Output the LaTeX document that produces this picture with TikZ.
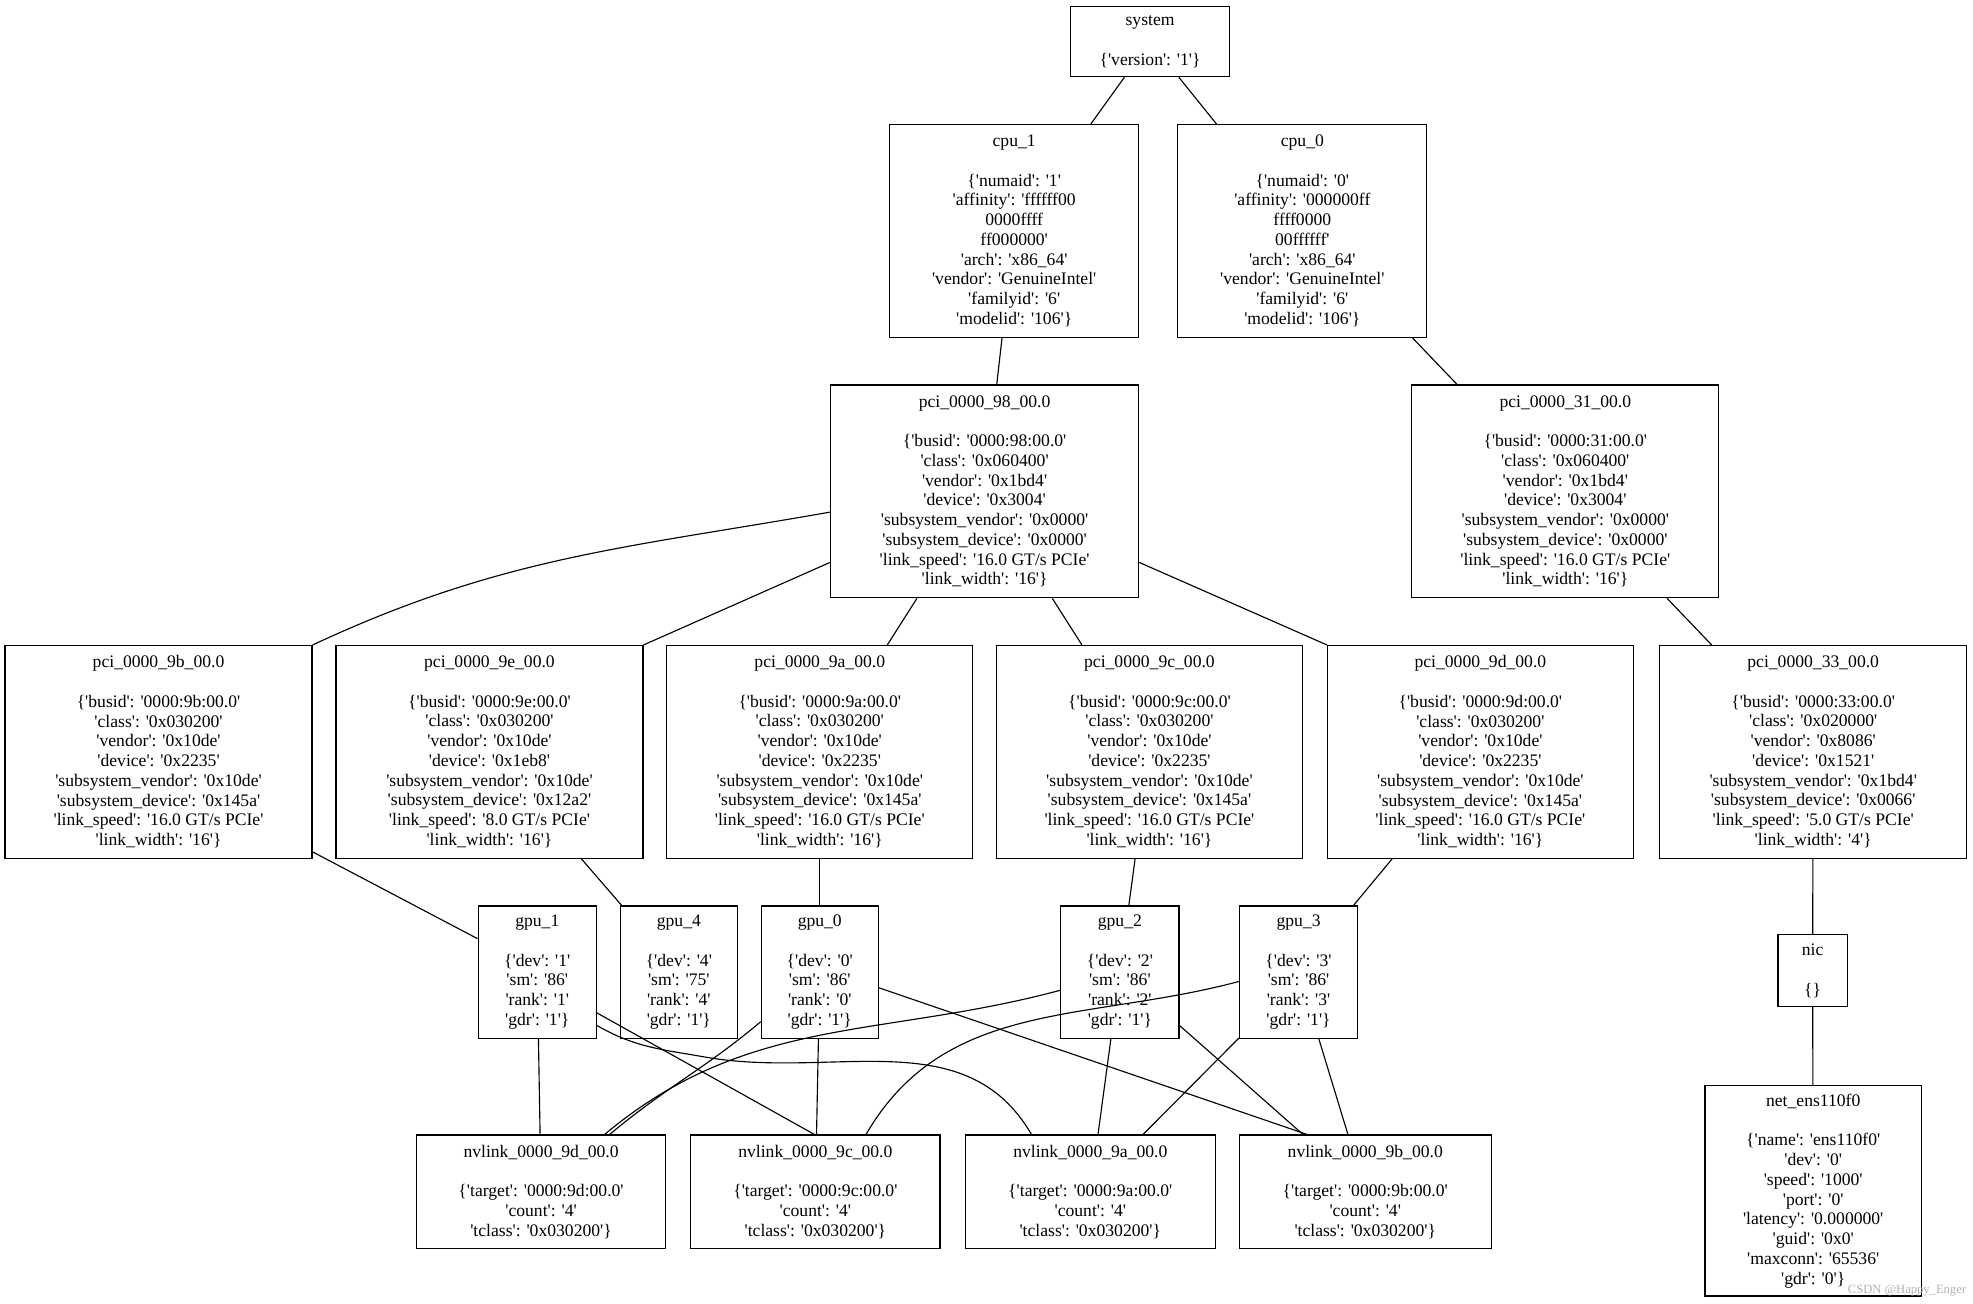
\documentclass[tikz,border=0pt]{standalone}
\usepackage{fontspec}
\setmainfont{Liberation Serif}[Ligatures=TeXOff]
\begin{document}
\begin{tikzpicture}[x=1pt,y=-1pt,
  box/.style={draw,line width=0.9pt,align=center,inner sep=0pt,font=\fontsize{14}{15.7}\selectfont},
  e/.style={line width=0.9pt}]
\useasboundingbox (0,0) rectangle (1568,1036);
\def\B#1#2#3#4#5#6#7{\node[box,minimum width=#4,minimum height=#5] (#1) at (#2,#3) {#6\\[15.7pt]#7};}
\B{sys}{914}{33}{126}{56}{system}{\{'version': '1'\}}
\B{cpu1}{806}{183.5}{198}{169}{cpu\_1}{\{'numaid': '1'\\'affinity': 'ffffff00\\0000ffff\\ff000000'\\'arch': 'x86\_64'\\'vendor': 'GenuineIntel'\\'familyid': '6'\\'modelid': '106'\}}
\B{cpu0}{1035}{183.5}{198}{169}{cpu\_0}{\{'numaid': '0'\\'affinity': '000000ff\\ffff0000\\00ffffff'\\'arch': 'x86\_64'\\'vendor': 'GenuineIntel'\\'familyid': '6'\\'modelid': '106'\}}
\B{p98}{782.5}{390.5}{245}{169}{pci\_0000\_98\_00.0}{\{'busid': '0000:98:00.0'\\'class': '0x060400'\\'vendor': '0x1bd4'\\'device': '0x3004'\\'subsystem\_vendor': '0x0000'\\'subsystem\_device': '0x0000'\\'link\_speed': '16.0 GT/s PCIe'\\'link\_width': '16'\}}
\B{p31}{1244}{390.5}{244}{169}{pci\_0000\_31\_00.0}{\{'busid': '0000:31:00.0'\\'class': '0x060400'\\'vendor': '0x1bd4'\\'device': '0x3004'\\'subsystem\_vendor': '0x0000'\\'subsystem\_device': '0x0000'\\'link\_speed': '16.0 GT/s PCIe'\\'link\_width': '16'\}}
\B{p9b}{126}{597.5}{244}{169}{pci\_0000\_9b\_00.0}{\{'busid': '0000:9b:00.0'\\'class': '0x030200'\\'vendor': '0x10de'\\'device': '0x2235'\\'subsystem\_vendor': '0x10de'\\'subsystem\_device': '0x145a'\\'link\_speed': '16.0 GT/s PCIe'\\'link\_width': '16'\}}
\B{p9e}{389}{597.5}{244}{169}{pci\_0000\_9e\_00.0}{\{'busid': '0000:9e:00.0'\\'class': '0x030200'\\'vendor': '0x10de'\\'device': '0x1eb8'\\'subsystem\_vendor': '0x10de'\\'subsystem\_device': '0x12a2'\\'link\_speed': '8.0 GT/s PCIe'\\'link\_width': '16'\}}
\B{p9a}{651.5}{597.5}{243}{169}{pci\_0000\_9a\_00.0}{\{'busid': '0000:9a:00.0'\\'class': '0x030200'\\'vendor': '0x10de'\\'device': '0x2235'\\'subsystem\_vendor': '0x10de'\\'subsystem\_device': '0x145a'\\'link\_speed': '16.0 GT/s PCIe'\\'link\_width': '16'\}}
\B{p9c}{913.5}{597.5}{243}{169}{pci\_0000\_9c\_00.0}{\{'busid': '0000:9c:00.0'\\'class': '0x030200'\\'vendor': '0x10de'\\'device': '0x2235'\\'subsystem\_vendor': '0x10de'\\'subsystem\_device': '0x145a'\\'link\_speed': '16.0 GT/s PCIe'\\'link\_width': '16'\}}
\B{p9d}{1176.5}{597.5}{243}{169}{pci\_0000\_9d\_00.0}{\{'busid': '0000:9d:00.0'\\'class': '0x030200'\\'vendor': '0x10de'\\'device': '0x2235'\\'subsystem\_vendor': '0x10de'\\'subsystem\_device': '0x145a'\\'link\_speed': '16.0 GT/s PCIe'\\'link\_width': '16'\}}
\B{p33}{1441}{597.5}{244}{169}{pci\_0000\_33\_00.0}{\{'busid': '0000:33:00.0'\\'class': '0x020000'\\'vendor': '0x8086'\\'device': '0x1521'\\'subsystem\_vendor': '0x1bd4'\\'subsystem\_device': '0x0066'\\'link\_speed': '5.0 GT/s PCIe'\\'link\_width': '4'\}}
\B{g1}{427}{772.5}{94}{105}{gpu\_1}{\{'dev': '1'\\'sm': '86'\\'rank': '1'\\'gdr': '1'\}}
\B{g4}{539.5}{772.5}{93}{105}{gpu\_4}{\{'dev': '4'\\'sm': '75'\\'rank': '4'\\'gdr': '1'\}}
\B{g0}{651.5}{772.5}{93}{105}{gpu\_0}{\{'dev': '0'\\'sm': '86'\\'rank': '0'\\'gdr': '1'\}}
\B{g2}{890}{772.5}{94}{105}{gpu\_2}{\{'dev': '2'\\'sm': '86'\\'rank': '2'\\'gdr': '1'\}}
\B{g3}{1032}{772.5}{94}{105}{gpu\_3}{\{'dev': '3'\\'sm': '86'\\'rank': '3'\\'gdr': '1'\}}
\B{nic}{1440.5}{771.5}{55}{57}{nic}{\{\}}
\B{n9d}{430}{947}{198}{90}{nvlink\_0000\_9d\_00.0}{\{'target': '0000:9d:00.0'\\'count': '4'\\'tclass': '0x030200'\}}
\B{n9c}{648}{947}{198}{90}{nvlink\_0000\_9c\_00.0}{\{'target': '0000:9c:00.0'\\'count': '4'\\'tclass': '0x030200'\}}
\B{n9a}{866.5}{947}{199}{90}{nvlink\_0000\_9a\_00.0}{\{'target': '0000:9a:00.0'\\'count': '4'\\'tclass': '0x030200'\}}
\B{n9b}{1085}{947}{200}{90}{nvlink\_0000\_9b\_00.0}{\{'target': '0000:9b:00.0'\\'count': '4'\\'tclass': '0x030200'\}}
\B{net}{1441}{946.5}{172}{167}{net\_ens110f0}{\{'name': 'ens110f0'\\'dev': '0'\\'speed': '1000'\\'port': '0'\\'latency': '0.000000'\\'guid': '0x0'\\'maxconn': '65536'\\'gdr': '0'\}}
\node[font=\fontsize{10}{12}\selectfont,text=gray!60,anchor=south east] (wm) at (1566,1034) {CSDN @Happy\_Enger};
\begin{scope}[e]
\draw (sys) -- (cpu1);
\draw (sys) -- (cpu0);
\draw (cpu1) -- (p98);
\draw (cpu0.south east) ++(-12,0) coordinate (c0s);
\draw (c0s) -- (p31.north west -| 1158,306);
\draw (p98.west |- 0,407) to[out=190,in=25] (p9b.north east);
\draw (p98.west |- 0,447) -- (p9e.north east);
\draw (p98) -- (p9a);
\draw (p98) -- (p9c);
\draw (p98.east |- 0,447) -- (p9d.north west);
\draw (p31) -- (p33);
\draw (p33) -- (nic);
\draw (nic) -- (net);
\draw (p9b.south east |- 0,677) -- (g1.north west |- 0,746);
\draw (p9e) -- (g4);
\draw (p9a) -- (g0);
\draw (p9c) -- (g2);
\draw (p9d) -- (g3);
% gpu_1
\draw (g1) -- (n9d);
\draw (g1.east |- 0,805) -- (n9c.north |- 0,902);
\draw (g1.east |- 0,815) to[out=-30,in=170] (560,840) to[out=-10,in=120] (820,902);
% gpu_0
\draw (g0.west |- 0,812) to[out=-140,in=40] (484,902);
\draw (g0) -- (n9c);
\draw (g0.east |- 0,785) -- (1040,902);
% gpu_2
\draw (g2.west |- 0,787) to[out=195,in=40] (480,902);
\draw (g2) -- (n9a);
\draw (g2.east |- 0,815) -- (1036,902);
% gpu_3
\draw (g3.west |- 0,780) to[out=195,in=60] (688,902);
\draw (g3.west |- 0,825) -- (908,902);
\draw (g3) -- (n9b);
\end{scope}
\end{tikzpicture}
\end{document}
